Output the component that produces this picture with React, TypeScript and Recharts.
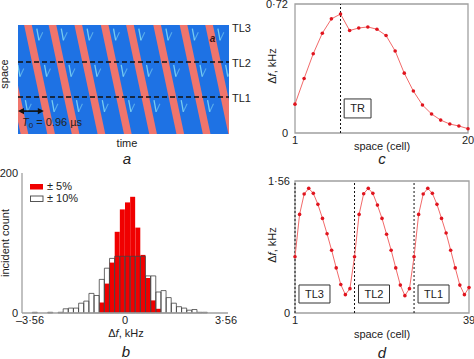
import React from 'react';
import {
  ComposedChart,
  LineChart,
  Line,
  Bar,
  XAxis,
  YAxis,
  ReferenceLine,
  ReferenceArea,
} from 'recharts';

const FONT = '"Liberation Sans", Arial, Helvetica, sans-serif';
const INK = '#222';
const FRAME = '#a0a0a0';
const LINE_RED = '#f26a6a';
const DOT_RED = '#e0141e';
const MAP_BLUE = '#1e72e4';
const STRIPE = '#f0756c';
const CHEVRON = '#86dcf2';

// (a) space-time map: stripe positions (µs, read at the top edge)
const stripeStartsUs = [-0.62, 0.37, 1.28, 2.24, 3.22, 4.16, 5.17, 6.15, 7.1];
const stripeDriftUs = 0.86; // shift of a stripe from top to bottom of the map
const timeSpanUs = 7.84;
const mapLines = [1.02, 1.98];
const chevronLevels = [2.9, 1.9, 0.93];
const periodUs = 0.96;

// (b) histogram, 40 bins over ±3.56 kHz
const bins = Array.from({ length: 40 }, (_, i) => i - 20);
const count5 = [
  0, 0, 0, 0, 0, 0, 0, 0, 0, 0, 0, 0, 0, 0, 0, 15, 42, 72, 116, 148,
  158, 166, 122, 83, 50, 18, 6, 0, 0, 0, 0, 0, 0, 0, 0, 0, 0, 0, 0, 0,
];
const count10 = [
  0, 0, 1, 0, 0, 1, 0, 1, 6, 7, 7, 14, 17, 28, 25, 48, 64, 78, 81, 81,
  81, 81, 81, 81, 53, 53, 30, 32, 22, 14, 9, 7, 4, 5, 1, 1, 0, 0, 0, 0,
];
// tick labels sit on bin edges: left edge of first bin, left edge of bin 0, right edge of last bin
const histTickBins = [-20, 0, 19];
const histTickLabels = ['\u20133\u00b756', '0', '3\u00b756'];

// (c) transition region
const cCells = [1, 2, 3, 4, 5, 6, 7, 8, 9, 10, 11, 12, 13, 14, 15, 16, 17, 18, 19, 20];
const cShift = [
  0.161, 0.304, 0.442, 0.557, 0.637, 0.664, 0.572, 0.586, 0.592, 0.579,
  0.544, 0.458, 0.334, 0.234, 0.156, 0.106, 0.072, 0.05, 0.039, 0.024,
];
const trCell = 6;

// (d) three loops
const dCells = [
  1, 2, 3, 4, 5, 6, 7, 8, 9, 10, 11, 12, 13, 14, 15, 16, 17, 18, 19, 20,
  21, 22, 23, 24, 25, 26, 27, 28, 29, 30, 31, 32, 33, 34, 35, 36, 37, 38, 39,
];
const dShift = [
  0.664, 1.165, 1.406, 1.473, 1.414, 1.284, 1.118, 0.936, 0.742, 0.533, 0.336, 0.217, 0.288,
  0.664, 1.165, 1.41, 1.473, 1.414, 1.275, 1.118, 0.93, 0.742, 0.533, 0.33, 0.205, 0.288,
  0.664, 1.165, 1.406, 1.473, 1.414, 1.284, 1.118, 0.945, 0.742, 0.533, 0.33, 0.217, 0.3,
];
const loopStarts = [1, 14, 27];
const loopNames = ['TL3', 'TL2', 'TL1'];

const fmt = (v: number) =>
  v === 0 ? '0' : (v < 0 ? '\u2013' : '') + Math.abs(v).toFixed(2).replace('.', '\u00b7');

const tickStyle = { fontSize: 11, fill: INK, fontFamily: FONT };

const ArrowShape = (p: any) => {
  const { x1, y1, x2, y2 } = p;
  return (
    <g>
      <line x1={x1 + 3} y1={y1} x2={x2 - 3} y2={y2} stroke="#111" strokeWidth={1.6} />
      <path d={`M${x1},${y1} l6,-3.2 v6.4 z`} fill="#111" />
      <path d={`M${x2},${y2} l-6,-3.2 v6.4 z`} fill="#111" />
    </g>
  );
};

const stripeAt = (t: number, y: number) => t + (stripeDriftUs * (3 - y)) / 3;

const PanelA = () => (
  <div style={{ position: 'absolute', left: 0, top: 0 }}>
    <ComposedChart width={240} height={170} data={[]} margin={{ top: 25, right: 11, bottom: 36, left: 18 }}>
      <XAxis type="number" dataKey="t" domain={[0, timeSpanUs]} allowDataOverflow hide />
      <YAxis type="number" domain={[0, 3]} allowDataOverflow hide />
      <ReferenceArea x1={0} x2={timeSpanUs} y1={0} y2={3} fill={MAP_BLUE} fillOpacity={1} stroke="none" />
      {stripeStartsUs.map((t) =>
        chevronLevels.map((lv) => {
          const x0 = stripeAt(t, lv) + 0.3;
          return (
            <React.Fragment key={`${t}-${lv}`}>
              <ReferenceLine
                segment={[{ x: x0, y: lv }, { x: x0 + 0.08, y: lv - 0.32 }]}
                stroke={CHEVRON}
                strokeOpacity={0.85}
                strokeWidth={1.3}
                ifOverflow="hidden"
              />
              <ReferenceLine
                segment={[{ x: x0 + 0.08, y: lv - 0.32 }, { x: x0 + 0.22, y: lv - 0.1 }]}
                stroke={CHEVRON}
                strokeOpacity={0.55}
                strokeWidth={1.1}
                ifOverflow="hidden"
              />
            </React.Fragment>
          );
        })
      )}
      {stripeStartsUs.map((t) => (
        <ReferenceLine
          key={t}
          segment={[{ x: stripeAt(t, 3.3), y: 3.3 }, { x: stripeAt(t, -0.3), y: -0.3 }]}
          stroke={STRIPE}
          strokeWidth={7.5}
          ifOverflow="hidden"
        />
      ))}
      {mapLines.map((y) => (
        <ReferenceLine key={y} y={y} stroke="#111" strokeWidth={1.5} strokeDasharray="5 3" />
      ))}
      <ReferenceLine
        segment={[{ x: 0, y: 0.63 }, { x: periodUs, y: 0.63 }]}
        shape={ArrowShape}
      />
    </ComposedChart>
  </div>
);

const histData = bins.map((bin, i) => ({ bin, p5: count5[i], p10: count10[i] }));

const HistTick = (props: any) => {
  const { x, y, payload } = props;
  const band = 206 / bins.length;
  const idx = histTickBins.indexOf(payload.value);
  if (idx < 0) return null;
  const shift = idx === 0 ? -band / 2 + 8 : idx === 1 ? -band / 2 : band / 2 - 2;
  return (
    <text x={x + shift} y={y} dy="0.71em" textAnchor="middle" fontSize={11} fill={INK} fontFamily={FONT}>
      {histTickLabels[idx]}
    </text>
  );
};

const PanelB = () => (
  <div style={{ position: 'absolute', left: 0, top: 165 }}>
    <ComposedChart
      width={240}
      height={194}
      data={histData}
      margin={{ top: 8, right: 12, bottom: 0, left: 0 }}
      barCategoryGap={0}
      barGap={0}
    >
      <XAxis
        xAxisId="red"
        dataKey="bin"
        type="category"
        ticks={histTickBins}
        interval={0}
        tick={<HistTick />}
        tickLine={false}
        axisLine={{ stroke: FRAME, strokeWidth: 1.3 }}
        tickSize={2}
        tickMargin={1}
        height={46}
      />
      <XAxis xAxisId="white" dataKey="bin" type="category" hide />
      <XAxis
        xAxisId="top"
        orientation="top"
        dataKey="bin"
        type="category"
        tick={false}
        tickLine={false}
        axisLine={{ stroke: FRAME, strokeWidth: 1.3 }}
        height={0}
      />
      <YAxis
        domain={[0, 200]}
        ticks={[0, 200]}
        interval={0}
        tickLine={false}
        axisLine={{ stroke: FRAME, strokeWidth: 1.3 }}
        tick={tickStyle}
        tickSize={2}
        tickMargin={2}
        width={22}
      />
      <YAxis
        yAxisId="right"
        orientation="right"
        domain={[0, 200]}
        tick={false}
        tickLine={false}
        axisLine={{ stroke: FRAME, strokeWidth: 1.3 }}
        width={0}
      />
      <Bar xAxisId="red" dataKey="p5" fill="#f00000" stroke="none" isAnimationActive={false} />
      <Bar xAxisId="white" dataKey="p10" fill="none" stroke="#444" strokeWidth={0.8} isAnimationActive={false} />
    </ComposedChart>
  </div>
);

const cData = cCells.map((cell, i) => ({ cell, df: cShift[i] }));

const PanelC = () => (
  <div style={{ position: 'absolute', left: 240, top: 0 }}>
    <LineChart width={234} height={170} data={cData} margin={{ top: 4, right: 6, bottom: 0, left: 0 }}>
      <XAxis
        dataKey="cell"
        type="number"
        domain={[1, 20]}
        ticks={[1, 20]}
        interval={0}
        tickLine={false}
        axisLine={false}
        tick={tickStyle}
        tickSize={2}
        tickMargin={1}
        height={37}
      />
      <YAxis
        domain={[0, 0.72]}
        ticks={[0, 0.72]}
        interval={0}
        tickFormatter={fmt}
        tickLine={false}
        axisLine={false}
        tick={tickStyle}
        tickSize={5}
        tickMargin={2}
        width={55}
      />
      <ReferenceArea x1={1} x2={20} y1={0} y2={0.72} fill="none" stroke={FRAME} strokeWidth={1.3} />
      <ReferenceLine x={trCell} stroke="#111" strokeDasharray="2 2" />
      <ReferenceArea
        x1={6.4}
        x2={9.35}
        y1={0.084}
        y2={0.19}
        fill="#fff"
        fillOpacity={1}
        stroke="#333"
        label={{ value: 'TR', position: 'center', fontSize: 11, fill: INK, fontFamily: FONT }}
      />
      <Line
        dataKey="df"
        stroke={LINE_RED}
        strokeWidth={1}
        dot={{ r: 1.8, fill: DOT_RED, stroke: 'none' }}
        isAnimationActive={false}
      />
    </LineChart>
  </div>
);

const dData = dCells.map((cell, i) => ({ cell, df: dShift[i] }));

const PanelD = () => (
  <div style={{ position: 'absolute', left: 240, top: 170 }}>
    <LineChart width={234} height={189} data={dData} margin={{ top: 11, right: 5, bottom: 0, left: 0 }}>
      <XAxis
        dataKey="cell"
        type="number"
        domain={[1, 39]}
        ticks={[1, 39]}
        interval={0}
        tickLine={false}
        axisLine={false}
        tick={tickStyle}
        tickSize={2}
        tickMargin={1}
        height={46}
      />
      <YAxis
        domain={[0, 1.56]}
        ticks={[0, 1.56]}
        interval={0}
        tickFormatter={fmt}
        tickLine={false}
        axisLine={false}
        tick={tickStyle}
        tickSize={3}
        tickMargin={2}
        width={55}
      />
      <ReferenceArea x1={1} x2={39} y1={0} y2={1.56} fill="none" stroke={FRAME} strokeWidth={1.3} />
      {loopStarts.map((c) => (
        <ReferenceLine key={c} x={c} stroke="#111" strokeDasharray="2 2" />
      ))}
      {loopStarts.map((c, i) => (
        <ReferenceArea
          key={`box-${c}`}
          x1={c + 0.87}
          x2={c + 7.64}
          y1={0.118}
          y2={0.331}
          fill="#fff"
          fillOpacity={1}
          stroke="#333"
          label={{ value: loopNames[i], position: 'center', fontSize: 11, fill: INK, fontFamily: FONT }}
        />
      ))}
      <Line
        dataKey="df"
        stroke={LINE_RED}
        strokeWidth={1}
        dot={{ r: 1.8, fill: DOT_RED, stroke: 'none' }}
        isAnimationActive={false}
      />
    </LineChart>
  </div>
);

const DeltaF = () => (
  <>
    {'\u0394'}
    <tspan fontStyle="italic">f</tspan>, kHz
  </>
);

const Annotations = () => (
  <svg
    width={474}
    height={359}
    style={{ position: 'absolute', left: 0, top: 0, pointerEvents: 'none' }}
    fontFamily={FONT}
    fontSize={11}
    fill={INK}
  >
    {/* a */}
    <text x={8} y={74} transform="rotate(-90 8 74)" textAnchor="middle">space</text>
    <text x={127} y={147} textAnchor="middle">time</text>
    <text x={127} y={164} textAnchor="middle" fontSize={15} fontStyle="italic">a</text>
    <text x={232} y={31.5}>TL3</text>
    <text x={232} y={66.5}>TL2</text>
    <text x={232} y={101.5}>TL1</text>
    <text x={212.5} y={42} textAnchor="middle" fontSize={10} fontStyle="italic" fontWeight="bold" fill="#3a1414">a</text>
    <text x={22} y={126}>
      <tspan fontStyle="italic">T</tspan>
      <tspan fontSize={8} dy={2}>0</tspan>
      <tspan dy={-2}> = 0.96 µs</tspan>
    </text>
    {/* b */}
    <text x={9} y={243} transform="rotate(-90 9 243)" textAnchor="middle">incident count</text>
    <text x={126} y={337} textAnchor="middle"><DeltaF /></text>
    <text x={126} y={357} textAnchor="middle" fontSize={15} fontStyle="italic">b</text>
    <rect x={30} y={184} width={13} height={5.5} fill="#f00000" />
    <text x={47} y={190}>± 5%</text>
    <rect x={30.5} y={196} width={12.5} height={5.5} fill="#fff" stroke="#444" strokeWidth={0.9} />
    <text x={47} y={202}>± 10%</text>
    {/* c */}
    <text x={276} y={66} transform="rotate(-90 276 66)" textAnchor="middle"><DeltaF /></text>
    <text x={382} y={150} textAnchor="middle">space (cell)</text>
    <text x={382} y={164} textAnchor="middle" fontSize={15} fontStyle="italic">c</text>
    {/* d */}
    <text x={276} y={245} transform="rotate(-90 276 245)" textAnchor="middle"><DeltaF /></text>
    <text x={382} y={338} textAnchor="middle">space (cell)</text>
    <text x={382} y={358} textAnchor="middle" fontSize={15} fontStyle="italic">d</text>
  </svg>
);

export default function App() {
  return (
    <div
      style={{
        position: 'absolute',
        left: 0,
        top: 0,
        width: 474,
        height: 359,
        background: '#fff',
        fontFamily: FONT,
        overflow: 'hidden',
      }}
    >
      <PanelA />
      <PanelB />
      <PanelC />
      <PanelD />
      <Annotations />
    </div>
  );
}
